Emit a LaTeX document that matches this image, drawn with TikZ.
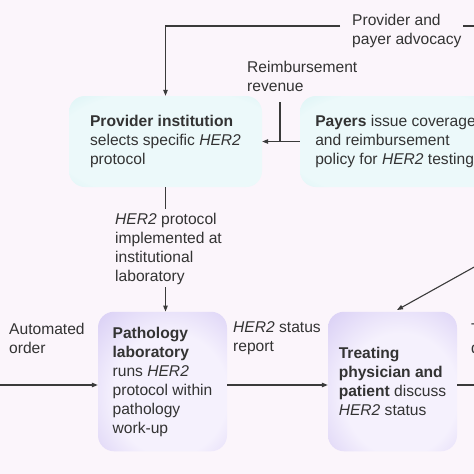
\documentclass[tikz,border=0pt]{standalone}
\usepackage{fontspec}
\setmainfont{Liberation Sans}
\usetikzlibrary{arrows.meta,calc}
\definecolor{bg}{HTML}{FBF5FB}
\definecolor{txt}{HTML}{333333}
\definecolor{ln}{HTML}{3A3A3A}
\definecolor{cyin}{HTML}{ECF9FA}
\definecolor{cyout}{HTML}{C4EBEE}
\definecolor{lvin}{HTML}{F5F1FD}
\definecolor{lvout}{HTML}{C8BAF0}
\pgfdeclareradialshading{cyshade}{\pgfpoint{2bp}{-2bp}}{color(0bp)=(cyin); color(30bp)=(cyin); color(50bp)=(cyout); color(100bp)=(cyout)}
\pgfdeclareradialshading{lvshade}{\pgfpoint{4bp}{-6bp}}{color(0bp)=(lvin); color(22bp)=(lvin); color(50bp)=(lvout); color(100bp)=(lvout)}
\begin{document}
\begin{tikzpicture}[x=1pt,y=-1pt,
  every node/.style={font=\fontsize{15.6}{19}\selectfont, text=txt},
  label/.style={inner sep=0pt, align=left, anchor=west},
  cybox/.style={rounded corners=16pt, shading=cyshade, align=left, inner sep=0pt},
  lvbox/.style={rounded corners=16pt, shading=lvshade, align=left, inner sep=0pt},
  conn/.style={draw=ln, line width=1.1pt},
  arr/.style={conn, -{Triangle[length=6pt,width=4.5pt]}}]
\useasboundingbox (0,0) rectangle (474,474);
\clip (0,0) rectangle (474,474);
\fill[bg] (0,0) rectangle (474,474);

% boxes
\node[cybox, minimum width=193pt, minimum height=91pt] (prov) at (165.5,141.5)
  {\textbf{Provider institution}\\selects specific \textit{HER2}\\protocol};
\node[cybox, minimum width=191pt, minimum height=91pt] (pay) at (395.5,141.5)
  {\textbf{Payers} issue coverage\\and reimbursement\\policy for \textit{HER2} testing};
\node[lvbox, minimum width=129pt, minimum height=139.5pt] (path) at (162.5,381.5)
  {\textbf{Pathology}\\\textbf{laboratory}\\runs \textit{HER2}\\protocol within\\pathology\\work-up};
\node[lvbox, minimum width=129pt, minimum height=139.5pt] (treat) at (392.5,381.5)
  {\textbf{Treating}\\\textbf{physician and}\\\textbf{patient} discuss\\\textit{HER2} status};

% labels
\node[label] (adv) at (352,30.5) {Provider and\\payer advocacy};
\node[label] (reimb) at (247,76.5) {Reimbursement\\revenue};
\node[label] (impl) at (115,248.5) {\textit{HER2} protocol\\implemented at\\institutional\\laboratory};
\node[label] (auto) at (9,338.5) {Automated\\order};
\node[label] (rep) at (233,338.5) {\textit{HER2} status\\report};
\node[label] (cut) at (471,338.5) {Treatment\\decision};

% coordinates
\coordinate (advL) at (340,26);
\coordinate (advR) at (463,26);
\coordinate (advE) at (480,26);
\coordinate (rtop) at (280,102);
\coordinate (rv) at (280,141.5);
\coordinate (L) at (-5,385);
\coordinate (R) at (480,385);
\coordinate (D) at (485,261);
\coordinate (Dend) at (397,310);

% connectors
\draw[arr] (advL) -| (prov.north);
\draw[conn] (advR) -- (advE);
\draw[arr] (pay.west) -- (prov.east);
\draw[conn] (rtop) -- (rv);
\draw[conn] (prov.south) -- ($(prov.south |- impl.north)+(0,-4)$);
\draw[arr] ($(prov.south |- impl.south)+(0,3)$) -- (prov.south |- path.north);
\draw[arr] (L) -- (L -| path.west);
\draw[arr] (L -| path.east) -- (L -| treat.west);
\draw[conn] (L -| treat.east) -- (R);
\draw[arr] (D) -- (Dend);
\end{tikzpicture}
\end{document}
